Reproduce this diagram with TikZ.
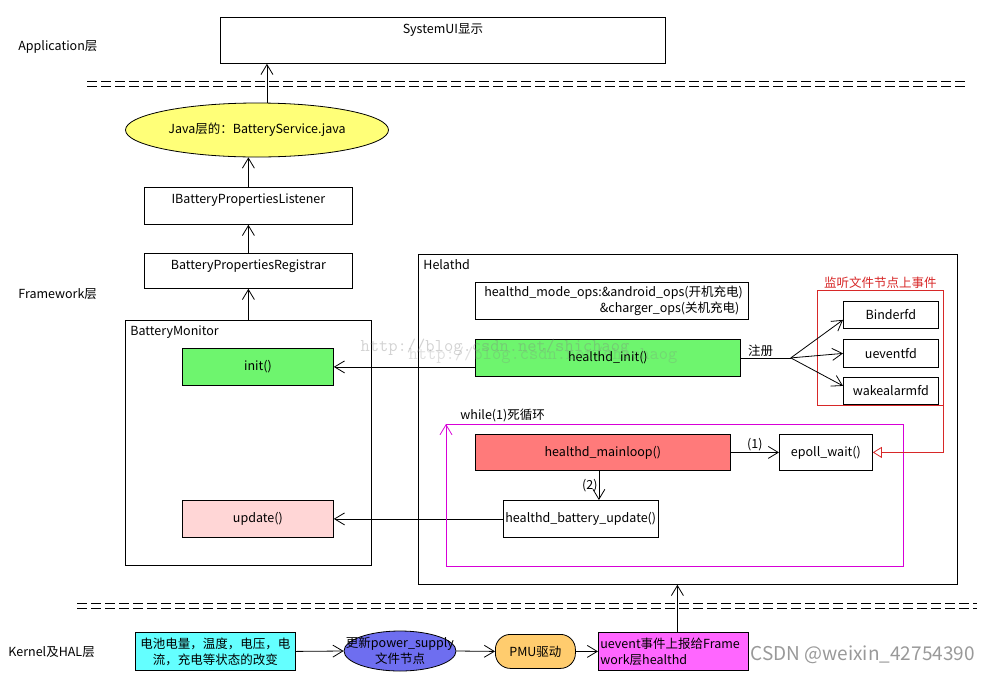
\documentclass[tikz,border=0pt]{standalone}
\usepackage{fontspec}
\setmainfont{Noto Sans CJK SC}
\usetikzlibrary{arrows.meta,shapes.geometric,positioning}

\definecolor{javayellow}{RGB}{255,255,120}
\definecolor{initgreen}{RGB}{110,245,110}
\definecolor{updpink}{RGB}{255,214,214}
\definecolor{loopred}{RGB}{255,122,122}
\definecolor{listenred}{RGB}{215,40,40}
\definecolor{loopmagenta}{RGB}{215,0,215}
\definecolor{battcyan}{RGB}{100,255,255}
\definecolor{supplyblue}{RGB}{110,110,240}
\definecolor{pmuorange}{RGB}{255,204,110}
\definecolor{ueventpink}{RGB}{255,102,255}

\begin{document}
\fontsize{12.5}{16}\selectfont
\begin{tikzpicture}[x=1pt,y=-1pt,line width=0.8pt,
        box/.style={draw,anchor=north west,inner sep=2pt},
        topbox/.style={box,label={[anchor=north,inner sep=6pt]north:#1}},
        arr/.style={-{Straight Barb[length=10pt,width=12pt]}},
        layer/.style={anchor=west,inner sep=0pt},
        sepline/.style={dash pattern=on 10pt off 4pt},
        fdbox/.style={box,minimum width=95pt,minimum height=27pt}]
    \useasboundingbox (0,0) rectangle (991,673);

    % layer names
    \node[layer] (applbl) at (18,47) {Application层};
    \node[layer] (fwlbl) at (18,294) {Framework层};
    \node[layer] (kernlbl) at (8,652) {Kernel及HAL层};

    % layer separators
    \draw[sepline] (87,81) -- (965,81);
    \draw[sepline] (87,86) -- (965,86);
    \draw[sepline] (77,603) -- (977,603);
    \draw[sepline] (77,608) -- (977,608);

    % application / java side
    \node[topbox=SystemUI显示,minimum width=445pt,minimum height=46pt] (systemui) at (220,17) {};
    \node[draw,ellipse,fill=javayellow,minimum width=263pt,minimum height=54pt,inner sep=0pt] (batsvc) at (257,130) {Java层的：BatteryService.java};
    \node[topbox=IBatteryPropertiesListener,minimum width=208pt,minimum height=37pt] (listener) at (144,187) {};
    \node[topbox=BatteryPropertiesRegistrar,minimum width=208pt,minimum height=35pt] (registrar) at (144,253) {};

    % BatteryMonitor
    \node[box,minimum width=246pt,minimum height=245pt] (monitor) at (125,320) {};
    \node[anchor=north west,inner sep=5pt] (monitorlbl) at (monitor.north west) {BatteryMonitor};
    \node[box,fill=initgreen,minimum width=151pt,minimum height=37pt] (init) at (182,348) {init()};
    \node[box,fill=updpink,minimum width=151pt,minimum height=37pt] (update) at (182,500) {update()};

    % healthd
    \node[box,minimum width=539pt,minimum height=330pt] (helathd) at (418,254) {};
    \node[anchor=north west,inner sep=5pt] (helathdlbl) at (helathd.north west) {Helathd};
    \node[box,inner xsep=9pt,text width=255pt,align=right,minimum height=37pt] (modeops) at (475,282)
        {healthd\_mode\_ops:\&android\_ops(开机充电)\\\&charger\_ops(关机充电)};
    \node[box,fill=initgreen,minimum width=265pt,minimum height=37pt] (hinit) at (475,339) {healthd\_init()};

    \node[box,draw=listenred,minimum width=126pt,minimum height=115pt] (listen) at (817,290) {};
    \node[text=listenred,anchor=south,inner sep=1pt] (listenlbl) at (listen.north) {监听文件节点上事件};
    \node[fdbox] (binderfd) at (843,301) {Binderfd};
    \node[fdbox,minimum height=28pt] (ueventfd) at (843,339) {ueventfd};
    \node[fdbox] (wakefd) at (843,377) {wakealarmfd};

    \node[box,draw=loopmagenta,minimum width=457pt,minimum height=142pt] (loop) at (446,424) {};
    \node[anchor=south west,inner sep=2pt] (looplbl) at ([xshift=12pt]loop.north west) {while(1)死循环};
    \node[box,fill=loopred,minimum width=255pt,minimum height=36pt] (mainloop) at (475,434) {healthd\_mainloop()};
    \node[box,minimum width=93pt,minimum height=36pt] (epoll) at (779,434) {epoll\_wait()};
    \node[box,minimum width=152pt,minimum height=37pt] (hbupdate) at (503,500) {healthd\_battery\_update()};

    % kernel side
    \node[box,fill=battcyan,minimum height=38pt,text width=156pt,align=center] (battstate) at (135,632)
        {电池电量，温度，电压，电\\流，充电等状态的改变};
    \node[draw,ellipse,fill=supplyblue,minimum width=112pt,minimum height=40pt,inner sep=0pt,
        label={[align=center]center:更新power\_supply\\文件节点}] (supply) at (400,651) {};
    \node[box,fill=pmuorange,rounded corners=15pt,minimum width=80pt,minimum height=34pt] (pmu) at (495,634) {PMU驱动};
    \node[box,fill=ueventpink,minimum height=38pt,text width=146pt,align=left] (ueventrpt) at (598,632)
        {uevent事件上报给Frame\\work层healthd};

    % connectors
    \draw[arr] (batsvc.70) -- (batsvc.70 |- systemui.south);
    \draw[arr] (listener.north) -- (listener.north |- batsvc.south);
    \draw[arr] (registrar.north) -- (listener.south);
    \draw[arr] (monitor.north) -- (registrar.south);
    \draw[arr] (init.east -| hinit.west) -- (init.east);
    \draw[arr] (hbupdate.west) -- (update.east);

    \coordinate[right=50pt of hinit.east] (fork);
    \draw (hinit.east) -- (fork);
    \node[anchor=south west,inner sep=1pt] (reglbl) at ([xshift=6pt]hinit.east) {注册};
    \draw[arr] (fork) -- ([yshift=-5pt]binderfd.west);
    \draw[arr] (fork) -- (ueventfd.west);
    \draw[arr] (fork) -- ([yshift=5pt]wakefd.west);

    \draw[arr] (mainloop.east) -- node[above,inner sep=1pt] (steplbl1) {(1)} (epoll.west);
    \draw[arr] ([xshift=-4pt]mainloop.south) -- node[left,inner sep=1pt] (steplbl2) {(2)}
        ([xshift=-4pt]mainloop.south |- hbupdate.north);
    \draw[listenred,-{Triangle[open,length=9pt,width=11pt]}] (listen.south east) |- (epoll.east);
    \draw[loopmagenta,arr] (loop.south west) -- (loop.north west);

    \draw[arr] (battstate.east) -- (supply.west);
    \draw[arr] (supply.east) -- (pmu.west);
    \draw[arr] (pmu.east) -- (ueventrpt.west);
    \draw[arr] ([xshift=4pt]ueventrpt.north) -- ([xshift=4pt]ueventrpt.north |- helathd.south);

    % watermarks
    \node[anchor=west,text=gray,opacity=0.35,font=\ttfamily\fontsize{18}{18}\selectfont] (urlmark) at (356,347) {http://blog.csdn.net/shichaog};
    \node[anchor=west,text=gray,opacity=0.25,font=\ttfamily\fontsize{18}{18}\selectfont] (urlmark2) at (404,355) {http://blog.csdn.net/shichaog};
    \node[anchor=west,text=gray!80,font=\fontsize{19}{19}\selectfont] (csdnmark) at (746,655) {CSDN @weixin\_42754390};
\end{tikzpicture}
\end{document}
